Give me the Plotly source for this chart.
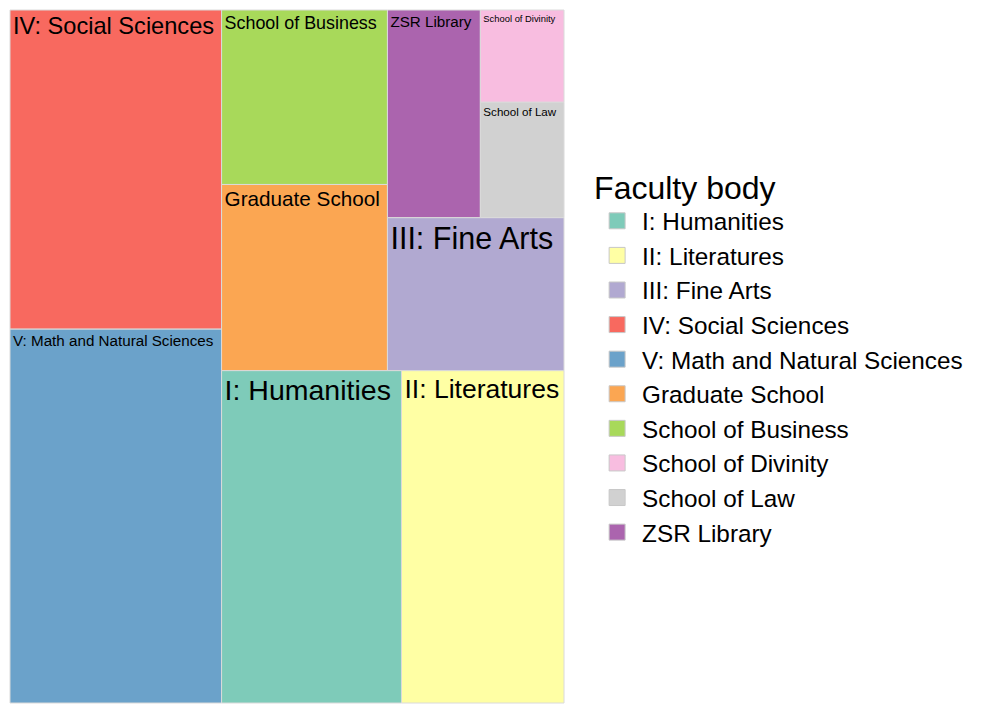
import plotly.graph_objects as go

# ---- data ----
categories = ["I: Humanities", "II: Literatures", "III: Fine Arts", "IV: Social Sciences",
              "V: Math and Natural Sciences", "Graduate School", "School of Business",
              "School of Divinity", "School of Law", "ZSR Library"]
faculty = [31, 28, 14, 35, 41, 16, 15, 4, 5, 10]

# ---- styles ----
colors = {
    "I: Humanities": "#7ECBB9",
    "II: Literatures": "#FFFFA4",
    "III: Fine Arts": "#B1A9D1",
    "IV: Social Sciences": "#F8695F",
    "V: Math and Natural Sciences": "#6BA2CA",
    "Graduate School": "#FBA652",
    "School of Business": "#A8D95A",
    "School of Divinity": "#F8BDE0",
    "School of Law": "#D1D1D1",
    "ZSR Library": "#AB64AE",
}
label_size = {
    "I: Humanities": 28.5,
    "II: Literatures": 26.5,
    "III: Fine Arts": 30.5,
    "IV: Social Sciences": 23.6,
    "V: Math and Natural Sciences": 15.2,
    "Graduate School": 20.7,
    "School of Business": 17.9,
    "School of Divinity": 9.4,
    "School of Law": 11.6,
    "ZSR Library": 15.2,
}

# tile nesting (layout structure; slice/dice alternate by depth), depth-first order
nodes = [
    ("root", ""),
    ("g_left", "root"),
    ("IV: Social Sciences", "g_left"),
    ("V: Math and Natural Sciences", "g_left"),
    ("g_right", "root"),
    ("g_rtop", "g_right"),
    ("g_bg", "g_rtop"),
    ("School of Business", "g_bg"),
    ("Graduate School", "g_bg"),
    ("g_rtr", "g_rtop"),
    ("g_rtrt", "g_rtr"),
    ("ZSR Library", "g_rtrt"),
    ("g_dl", "g_rtrt"),
    ("School of Divinity", "g_dl"),
    ("School of Law", "g_dl"),
    ("III: Fine Arts", "g_rtr"),
    ("g_rbot", "g_right"),
    ("I: Humanities", "g_rbot"),
    ("II: Literatures", "g_rbot"),
]

value_of = dict(zip(categories, faculty))

ids, parents, values, texts, mcolors, lwidths, tsizes = [], [], [], [], [], [], []
for nid, npar in nodes:
    ids.append(nid)
    parents.append(npar)
    if nid in value_of:
        values.append(value_of[nid]); texts.append(nid); mcolors.append(colors[nid])
        lwidths.append(1); tsizes.append(label_size[nid])
    else:
        values.append(0); texts.append(""); mcolors.append("rgba(0,0,0,0)")
        lwidths.append(0); tsizes.append(10)

fig = go.Figure()
fig.add_trace(go.Treemap(
    ids=ids, labels=ids, parents=parents, values=values, text=texts,
    branchvalues="remainder", sort=False,
    textinfo="text", textposition="top left",
    textfont=dict(family="Liberation Sans, Arial, sans-serif", size=tsizes, color="#000000"),
    tiling=dict(packing="slice-dice", pad=0),
    marker=dict(colors=mcolors, line=dict(color="#DADADA", width=lwidths),
                pad=dict(t=0, l=0, r=0, b=0)),
    pathbar=dict(visible=False),
    domain=dict(x=[0, 554 / 990], y=[0, 1]),
    hoverinfo="label+value",
))

for name in categories:
    fig.add_trace(go.Scatter(
        x=[None], y=[None], mode="markers", name=name,
        marker=dict(symbol="square", size=16, color=colors[name],
                    line=dict(color="#C8C8C8", width=1)),
        showlegend=True, hoverinfo="skip",
    ))

fig.update_layout(
    width=1000, height=714,
    margin=dict(l=10, r=0, t=10, b=11),
    paper_bgcolor="white", plot_bgcolor="white",
    xaxis=dict(visible=False), yaxis=dict(visible=False),
    font=dict(family="Liberation Sans, Arial, sans-serif", color="#000000"),
    legend=dict(
        x=0.588, xanchor="left", y=0.788, yanchor="top",
        font=dict(size=24.3, color="#000000"),
        title=dict(text="Faculty body", font=dict(size=32, color="#000000")),
        itemwidth=40, bgcolor="rgba(0,0,0,0)",
    ),
)

fig.write_html("out.html")
